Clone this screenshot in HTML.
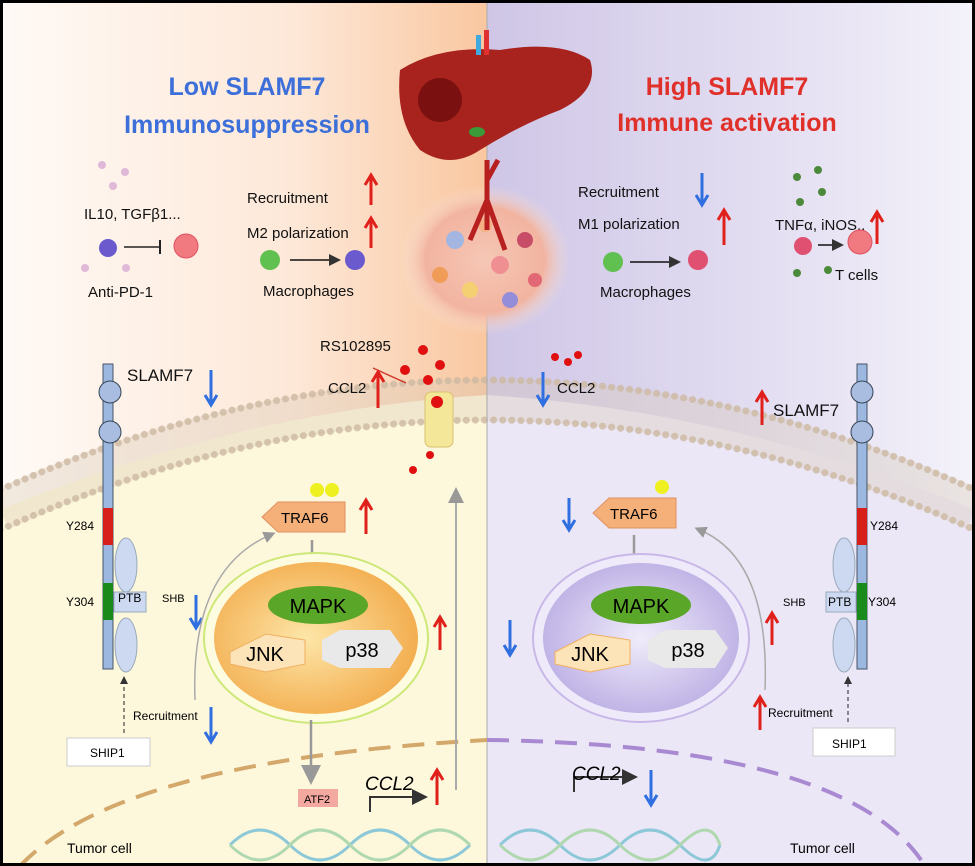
<!DOCTYPE html>
<html><head><meta charset="utf-8"><style>
body{margin:0;background:#fff}
svg{display:block;font-family:"Liberation Sans",sans-serif}
</style></head><body>
<svg width="975" height="866" viewBox="0 0 975 866" xmlns="http://www.w3.org/2000/svg">
<defs>
<linearGradient id="lt" x1="0" y1="0" x2="1" y2="0">
<stop offset="0" stop-color="#fffaf6"/><stop offset="0.6" stop-color="#fde8d8"/><stop offset="1" stop-color="#f9c7a0"/></linearGradient>
<linearGradient id="rt" x1="0" y1="0" x2="1" y2="0">
<stop offset="0" stop-color="#cfc6e6"/><stop offset="0.6" stop-color="#e4dff2"/><stop offset="1" stop-color="#f4f2fa"/></linearGradient>
<radialGradient id="og" cx="0.45" cy="0.5" r="0.6"><stop offset="0" stop-color="#fde6a8"/><stop offset="1" stop-color="#f2a948"/></radialGradient>
<radialGradient id="pg" cx="0.5" cy="0.5" r="0.6"><stop offset="0" stop-color="#f0ecfa"/><stop offset="1" stop-color="#b7a9e2"/></radialGradient>
<radialGradient id="tum" cx="0.5" cy="0.5" r="0.5"><stop offset="0" stop-color="#f6c7b5"/><stop offset="0.7" stop-color="#f2b4a0"/><stop offset="1" stop-color="#f8e3da" stop-opacity="0"/></radialGradient>
<marker id="ag" markerWidth="8" markerHeight="8" refX="4" refY="4" orient="auto"><path d="M0,0L8,4L0,8z" fill="#999"/></marker>
<marker id="ak" markerWidth="8" markerHeight="8" refX="4" refY="4" orient="auto"><path d="M0,0L8,4L0,8z" fill="#333"/></marker>
</defs>
<rect x="0" y="0" width="487" height="866" fill="url(#lt)"/>
<rect x="487" y="0" width="488" height="866" fill="url(#rt)"/>
<path d="M0,510 Q243,410 487,395 L487,866 L0,866Z" fill="#fdf8dc"/>
<path d="M487,395 Q731,410 975,510 L975,866 L487,866Z" fill="#ebe7f6"/>
<path d="M0,510 Q487,290 975,510" fill="none" stroke="#d8c8b4" stroke-width="42" opacity="0.35"/>
<path d="M0,490 Q487,270 975,490" fill="none" stroke="#cdb9a2" stroke-width="7" stroke-dasharray="0.1 9" stroke-linecap="round" opacity="0.8"/>
<path d="M0,530 Q487,310 975,530" fill="none" stroke="#cdb9a2" stroke-width="7" stroke-dasharray="0.1 9" stroke-linecap="round" opacity="0.8"/>
<line x1="487" y1="0" x2="487" y2="866" stroke="#aaa" stroke-width="1"/>
<path d="M20,866 Q120,760 487,740" fill="none" stroke="#d4a76a" stroke-width="4" stroke-dasharray="22 12"/>
<path d="M487,740 Q850,745 925,866" fill="none" stroke="#a98ad2" stroke-width="4" stroke-dasharray="22 12"/>
<g font-weight="bold" font-size="25" text-anchor="middle">
<text x="247" y="95" fill="#3c6fd9">Low SLAMF7</text>
<text x="247" y="133" fill="#3c6fd9">Immunosuppression</text>
<text x="727" y="95" fill="#e0302a">High SLAMF7</text>
<text x="727" y="131" fill="#e0302a">Immune activation</text>
</g>
<path d="M400,70 Q440,45 500,50 Q560,40 590,60 Q600,90 560,110 Q520,125 480,150 Q450,170 420,150 Q395,120 400,70Z" fill="#a8231e"/>
<circle cx="440" cy="100" r="22" fill="#7a1010"/>
<rect x="476" y="35" width="5" height="20" fill="#3fa9e0"/><rect x="484" y="30" width="5" height="25" fill="#e03030"/>
<ellipse cx="477" cy="132" rx="8" ry="5" fill="#3a9a3a"/>
<ellipse cx="485" cy="260" rx="85" ry="75" fill="url(#tum)"/>
<g opacity="0.9">
<circle cx="455" cy="240" r="9" fill="#9ab6e8"/><circle cx="500" cy="265" r="9" fill="#f08a90"/><circle cx="470" cy="290" r="8" fill="#f5d36e"/>
<circle cx="525" cy="240" r="8" fill="#c24060"/><circle cx="440" cy="275" r="8" fill="#f09a50"/><circle cx="510" cy="300" r="8" fill="#8a8ae0"/>
<circle cx="485" cy="225" r="7" fill="#f5b080"/><circle cx="535" cy="280" r="7" fill="#e06070"/>
</g>
<path d="M487,160 L487,230 M487,200 L470,240 M487,200 L505,250 M487,180 L498,160" stroke="#b82020" stroke-width="5" fill="none"/>
<g font-size="15" fill="#111">
<text x="84" y="219">IL10, TGFβ1...</text>
<text x="88" y="297">Anti-PD-1</text>
<text x="247" y="203">Recruitment</text>
<text x="247" y="238">M2 polarization</text>
<text x="263" y="296">Macrophages</text>
<text x="578" y="197">Recruitment</text>
<text x="578" y="229">M1 polarization</text>
<text x="600" y="297">Macrophages</text>
<text x="775" y="230">TNFα, iNOS..</text>
<text x="835" y="280">T cells</text>
<text x="320" y="351">RS102895</text>
<text x="328" y="393">CCL2</text>
<text x="557" y="393">CCL2</text>
<text x="127" y="381" font-size="17">SLAMF7</text>
<text x="773" y="416" font-size="17">SLAMF7</text>
</g>
<g fill="#e0b8d8"><circle cx="102" cy="165" r="4"/><circle cx="125" cy="172" r="4"/><circle cx="113" cy="186" r="4"/><circle cx="126" cy="268" r="4"/><circle cx="85" cy="268" r="4"/></g>
<g fill="#4a8a3a"><circle cx="797" cy="177" r="4"/><circle cx="818" cy="170" r="4"/><circle cx="822" cy="192" r="4"/><circle cx="800" cy="202" r="4"/><circle cx="797" cy="273" r="4"/><circle cx="828" cy="270" r="4"/></g>
<g fill="#e01010"><circle cx="423" cy="350" r="5"/><circle cx="440" cy="365" r="5"/><circle cx="428" cy="380" r="5"/><circle cx="405" cy="370" r="5"/><circle cx="430" cy="455" r="4"/><circle cx="413" cy="470" r="4"/><circle cx="555" cy="357" r="4"/><circle cx="568" cy="362" r="4"/><circle cx="578" cy="355" r="4"/></g>
<circle cx="108" cy="248" r="9" fill="#6a5acd"/><circle cx="186" cy="246" r="12" fill="#f07a80" stroke="#e05060"/>
<line x1="124" y1="247" x2="160" y2="247" stroke="#222" stroke-width="1.5"/><line x1="160" y1="240" x2="160" y2="254" stroke="#222" stroke-width="2"/>
<circle cx="270" cy="260" r="10" fill="#60c050"/><circle cx="355" cy="260" r="10" fill="#6a5acd"/>
<line x1="290" y1="260" x2="335" y2="260" stroke="#111" stroke-width="1.5" marker-end="url(#ak)"/>
<circle cx="613" cy="262" r="10" fill="#60c050"/><circle cx="698" cy="260" r="10" fill="#e05070"/>
<line x1="630" y1="262" x2="675" y2="262" stroke="#111" stroke-width="1.5" marker-end="url(#ak)"/>
<circle cx="803" cy="246" r="9" fill="#e05070"/><circle cx="860" cy="242" r="12" fill="#f07a80" stroke="#e05060"/>
<line x1="818" y1="245" x2="838" y2="245" stroke="#111" stroke-width="1.5" marker-end="url(#ak)"/>
<rect x="425" y="392" width="28" height="55" rx="6" fill="#f5e79a" stroke="#d9c070"/>
<circle cx="437" cy="402" r="6" fill="#e01010"/>
<line x1="373" y1="368" x2="406" y2="383" stroke="#d04030" stroke-width="1.5"/>
<g stroke-width="3" fill="none">
<g stroke="#e0201a"><path d="M371,205 V175 M365,185 L371,175 L377,185"/><path d="M371,248 V218 M365,228 L371,218 L377,228"/><path d="M378,408 V372 M372,382 L378,372 L384,382"/><path d="M366,534 V500 M360,510 L366,500 L372,510"/><path d="M440,650 V617 M434,627 L440,617 L446,627"/><path d="M437,805 V770 M431,780 L437,770 L443,780"/><path d="M724,245 V210 M718,220 L724,210 L730,220"/><path d="M877,244 V212 M871,222 L877,212 L883,222"/><path d="M762,425 V392 M756,402 L762,392 L768,402"/><path d="M772,645 V613 M766,623 L772,613 L778,623"/><path d="M760,730 V697 M754,707 L760,697 L766,707"/></g>
<g stroke="#2f6fe0"><path d="M211,370 V405 M205,395 L211,405 L217,395"/><path d="M196,595 V628 M190,618 L196,628 L202,618"/><path d="M211,707 V742 M205,732 L211,742 L217,732"/><path d="M702,173 V205 M696,195 L702,205 L708,195"/><path d="M543,372 V405 M537,395 L543,405 L549,395"/><path d="M569,498 V530 M563,520 L569,530 L575,520"/><path d="M510,620 V655 M504,645 L510,655 L516,645"/><path d="M651,770 V805 M645,795 L651,805 L657,795"/></g>
</g>
<line x1="456" y1="790" x2="456" y2="495" stroke="#aaa" stroke-width="2" marker-end="url(#ag)"/>
<g>
<rect x="103" y="364" width="10" height="305" fill="#9cb8e0" stroke="#456"/>
<rect x="103" y="508" width="10" height="37" fill="#d8201a"/><rect x="103" y="583" width="10" height="37" fill="#1a8a1a"/>
<circle cx="110" cy="392" r="11" fill="#a9bde0" stroke="#345"/><circle cx="110" cy="432" r="11" fill="#a9bde0" stroke="#345"/>
<ellipse cx="126" cy="565" rx="11" ry="27" fill="#cdd9f0" stroke="#9ab"/><rect x="114" y="592" width="32" height="20" fill="#cdd9f0" stroke="#9ab"/><ellipse cx="126" cy="645" rx="11" ry="27" fill="#cdd9f0" stroke="#9ab"/>
<text x="66" y="530" font-size="12">Y284</text><text x="66" y="606" font-size="12">Y304</text>
<text x="118" y="602" font-size="12">PTB</text><text x="162" y="602" font-size="11">SHB</text>
<text x="133" y="720" font-size="12">Recruitment</text>
<rect x="67" y="738" width="83" height="28" fill="#fff" stroke="#ccc"/><text x="90" y="757" font-size="12">SHIP1</text>
<line x1="124" y1="733" x2="124" y2="680" stroke="#222" stroke-dasharray="4 3" marker-end="url(#ak)"/>
</g>
<g>
<rect x="857" y="364" width="10" height="305" fill="#9cb8e0" stroke="#456"/>
<rect x="857" y="508" width="10" height="37" fill="#d8201a"/><rect x="857" y="583" width="10" height="37" fill="#1a8a1a"/>
<circle cx="862" cy="392" r="11" fill="#a9bde0" stroke="#345"/><circle cx="862" cy="432" r="11" fill="#a9bde0" stroke="#345"/>
<ellipse cx="844" cy="565" rx="11" ry="27" fill="#cdd9f0" stroke="#9ab"/><rect x="826" y="592" width="30" height="20" fill="#cdd9f0" stroke="#9ab"/><ellipse cx="844" cy="645" rx="11" ry="27" fill="#cdd9f0" stroke="#9ab"/>
<text x="870" y="530" font-size="12">Y284</text><text x="868" y="606" font-size="12">Y304</text>
<text x="828" y="606" font-size="12">PTB</text><text x="783" y="606" font-size="11">SHB</text>
<text x="768" y="717" font-size="12">Recruitment</text>
<rect x="813" y="728" width="82" height="28" fill="#fff" stroke="#ccc"/><text x="832" y="748" font-size="12">SHIP1</text>
<line x1="848" y1="722" x2="848" y2="680" stroke="#222" stroke-dasharray="4 3" marker-end="url(#ak)"/>
</g>
<polygon points="262,517 278,502 345,502 345,532 278,532" fill="#f5b07a" stroke="#e09060"/>
<text x="281" y="523" font-size="15">TRAF6</text>
<circle cx="317" cy="490" r="7" fill="#eef020"/><circle cx="332" cy="490" r="7" fill="#eef020"/>
<polygon points="593,513 609,498 676,498 676,528 609,528" fill="#f5b07a" stroke="#e09060"/>
<text x="610" y="519" font-size="15">TRAF6</text>
<circle cx="662" cy="487" r="7" fill="#eef020"/>
<line x1="312" y1="540" x2="312" y2="575" stroke="#999" stroke-width="2.5" marker-end="url(#ag)"/>
<line x1="634" y1="535" x2="634" y2="570" stroke="#999" stroke-width="2.5" marker-end="url(#ag)"/>
<path d="M195,700 Q190,570 270,535" fill="none" stroke="#aaa" stroke-width="1.5" marker-end="url(#ag)"/>
<path d="M765,690 Q770,560 700,530" fill="none" stroke="#aaa" stroke-width="1.5" marker-end="url(#ag)"/>
<ellipse cx="316" cy="638" rx="112" ry="85" fill="#fdfbe0" stroke="#cde878" stroke-width="2"/>
<ellipse cx="316" cy="638" rx="102" ry="76" fill="url(#og)"/>
<ellipse cx="318" cy="605" rx="50" ry="19" fill="#5aa628"/>
<text x="318" y="613" font-size="20" text-anchor="middle">MAPK</text>
<polygon points="230,652 266,634 305,640 305,664 266,672 230,664" fill="#fde3b8" stroke="#f0b060"/>
<text x="265" y="661" font-size="20" text-anchor="middle">JNK</text>
<polygon points="322,640 340,630 390,630 403,648 390,668 340,668 322,660" fill="#e9e9e9"/>
<text x="362" y="657" font-size="20" text-anchor="middle">p38</text>
<ellipse cx="641" cy="638" rx="108" ry="84" fill="#efeafa" stroke="#c8b8e8" stroke-width="2"/>
<ellipse cx="641" cy="638" rx="98" ry="75" fill="url(#pg)"/>
<ellipse cx="641" cy="605" rx="50" ry="19" fill="#5aa628"/>
<text x="641" y="613" font-size="20" text-anchor="middle">MAPK</text>
<polygon points="555,652 590,634 630,640 630,664 590,672 555,664" fill="#fde3b8" stroke="#f0b060"/>
<text x="590" y="661" font-size="20" text-anchor="middle">JNK</text>
<polygon points="648,640 665,630 715,630 728,648 715,668 665,668 648,660" fill="#e9e9e9"/>
<text x="688" y="657" font-size="20" text-anchor="middle">p38</text>
<line x1="311" y1="720" x2="311" y2="775" stroke="#999" stroke-width="2.5" marker-end="url(#ag)"/>
<rect x="298" y="789" width="40" height="18" fill="#f4a9a0"/><text x="304" y="803" font-size="11">ATF2</text>
<path d="M370,812 V797 H420" fill="none" stroke="#333" stroke-width="2" marker-end="url(#ak)"/>
<path d="M574,792 V777 H630" fill="none" stroke="#333" stroke-width="2" marker-end="url(#ak)"/>
<text x="365" y="790" font-size="19" font-style="italic">CCL2</text>
<text x="572" y="780" font-size="19" font-style="italic">CCL2</text>
<path d="M230,845 Q260,815 290,845 T350,845 T410,845 T470,845" fill="none" stroke="#8cc8d8" stroke-width="3"/>
<path d="M230,845 Q260,875 290,845 T350,845 T410,845 T470,845" fill="none" stroke="#b0d8b0" stroke-width="3"/>
<path d="M500,845 Q530,815 560,845 T620,845 T680,845 T720,845" fill="none" stroke="#8cc8d8" stroke-width="3"/>
<path d="M500,845 Q530,875 560,845 T620,845 T680,845 T720,845" fill="none" stroke="#b0d8b0" stroke-width="3"/>
<text x="67" y="853" font-size="14">Tumor cell</text>
<text x="790" y="853" font-size="14">Tumor cell</text>
<rect x="1.5" y="1.5" width="972" height="863" fill="none" stroke="#000" stroke-width="3"/>
</svg>
</body></html>
